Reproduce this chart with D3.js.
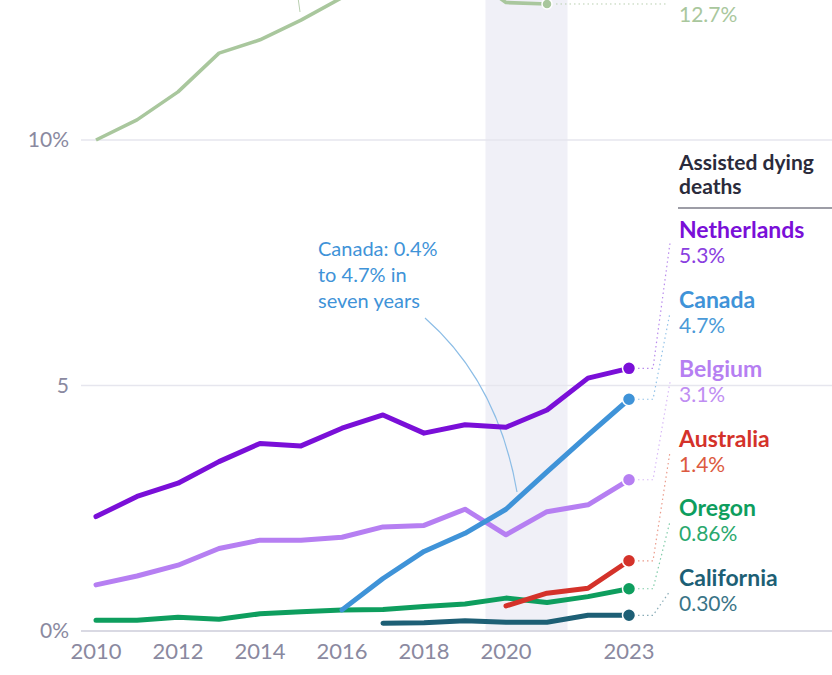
<!DOCTYPE html>
<html>
<head>
<meta charset="utf-8">
<script src="https://cdn.jsdelivr.net/npm/d3@7"></script>
<style>
  body { margin: 0; background: #fff; }
  svg { display: block; font-family: Lato, "Open Sans", sans-serif; }
</style>
</head>
<body>
<div id="chart"></div>
<script>
// years on the x axis
var years = d3.range(2010, 2024);
var xTicks = [2010, 2012, 2014, 2016, 2018, 2020, 2023];
var yTicks = [0, 5, 10];
var yTickLabels = ["0%", "5", "10%"];

// assisted dying deaths, share of all deaths (%)
var netherlands = [2.33, 2.74, 3.01, 3.45, 3.82, 3.77, 4.13, 4.40, 4.03, 4.20, 4.15, 4.50, 5.15, 5.35];
var belgium     = [0.94, 1.12, 1.34, 1.68, 1.85, 1.85, 1.91, 2.12, 2.15, 2.48, 1.96, 2.43, 2.57, 3.08];
var canada      = [null, null, null, null, null, null, 0.43, 1.07, 1.62, 1.99, 2.48, 3.24, 3.99, 4.72];
var australia   = [null, null, null, null, null, null, null, null, null, null, 0.51, 0.77, 0.87, 1.43];
var oregon      = [0.22, 0.22, 0.28, 0.24, 0.35, 0.39, 0.43, 0.44, 0.50, 0.55, 0.67, 0.58, 0.70, 0.86];
var california  = [null, null, null, null, null, null, null, 0.16, 0.17, 0.21, 0.18, 0.18, 0.32, 0.32];
// comparison series, top part cut off in the picture
var topSeries   = [10.0, 10.41, 10.98, 11.77, 12.04, 12.44, 12.9, 13.3, 13.6, 13.4, 12.8, 12.77, null, null];

var seriesNames  = ["Netherlands", "Canada", "Belgium", "Australia", "Oregon", "California"];
var seriesValues = [netherlands, canada, belgium, australia, oregon, california];
var seriesLabels = ["5.3%", "4.7%", "3.1%", "1.4%", "0.86%", "0.30%"];
var seriesColors = ["#7a0fd8", "#3f93d8", "#b67ff2", "#d4322a", "#0e9e5e", "#1d5f75"];
var labelColors  = ["#8a3ee0", "#4a9ad8", "#bf8ef2", "#dc5a40", "#2aa86e", "#3a7487"];
var shadedYears = [2019.5, 2021.5];

var W = 832, H = 675;
var svg = d3.select("#chart").append("svg")
    .attr("width", W)
    .attr("height", H);

var x = d3.scaleLinear().domain([2010, 2023]).range([96, 629]);
var y = d3.scaleLinear().domain([0, 10]).range([631, 140]);

// shaded period
svg.append("rect")
    .attr("x", x(shadedYears[0]))
    .attr("y", 0)
    .attr("width", x(shadedYears[1]) - x(shadedYears[0]))
    .attr("height", y(0))
    .attr("fill", "#f0f0f7");

// grid lines
svg.append("g").selectAll("line")
    .data(yTicks)
    .join("line")
    .attr("x1", 81).attr("x2", W)
    .attr("y1", d => y(d)).attr("y2", d => y(d))
    .attr("stroke", d => d === 0 ? "#d9d9e3" : "#e6e6ee")
    .attr("stroke-width", d => d === 0 ? 2 : 1.5);

svg.append("g").selectAll("text")
    .data(yTicks)
    .join("text")
    .attr("x", 69)
    .attr("y", d => y(d) + 7)
    .attr("text-anchor", "end")
    .attr("font-size", 21)
    .attr("fill", "#8a89a0")
    .text((d, i) => yTickLabels[i]);

// x axis labels
svg.append("g").selectAll("text")
    .data(xTicks)
    .join("text")
    .attr("x", d => x(d))
    .attr("y", 659)
    .attr("text-anchor", "middle")
    .attr("font-size", 22)
    .attr("fill", "#8a89a0")
    .text(d => d);

var line = d3.line()
    .defined(d => d.v != null)
    .x(d => x(d.year))
    .y(d => y(d.v));

function points(vals) {
    return years.map((yr, i) => ({year: yr, v: vals[i]}));
}
function lastPoint(vals) {
    var p = points(vals).filter(d => d.v != null);
    return p[p.length - 1];
}

// top comparison series
var topLast = lastPoint(topSeries);
svg.append("path")
    .attr("d", line(points(topSeries)))
    .attr("fill", "none")
    .attr("stroke", "#a9c79d")
    .attr("stroke-width", 3.6)
    .attr("stroke-linejoin", "round");
svg.append("circle")
    .attr("cx", x(topLast.year)).attr("cy", y(topLast.v))
    .attr("r", 5)
    .attr("fill", "#a9c79d")
    .attr("stroke", "#fff").attr("stroke-width", 1.5);
svg.append("line")
    .attr("x1", x(topLast.year) + 9).attr("x2", 668)
    .attr("y1", y(topLast.v)).attr("y2", y(topLast.v))
    .attr("stroke", "#b9cfb0")
    .attr("stroke-dasharray", "1.5,3");
svg.append("line")
    .attr("x1", 297).attr("y1", -10)
    .attr("x2", 300).attr("y2", 12)
    .attr("stroke", "#b9cfb0").attr("stroke-width", 1);
svg.append("text")
    .attr("x", 679).attr("y", 22)
    .attr("font-size", 21)
    .attr("fill", "#a9c79d")
    .text("12.7%");

// annotation for Canada
svg.append("path")
    .attr("d", "M425,318 Q498,382 517,492")
    .attr("fill", "none")
    .attr("stroke", "#8cbde6")
    .attr("stroke-width", 1.2);
svg.append("text")
    .attr("font-size", 20)
    .attr("fill", "#3f93d8")
    .selectAll("tspan")
    .data(["Canada: 0.4%", "to 4.7% in", "seven years"])
    .join("tspan")
    .attr("x", 318)
    .attr("y", (d, i) => 256 + i * 26)
    .text(d => d);

// series lines, drawn bottom-up so the front ones sit on top
var order = [5, 4, 3, 2, 1, 0];
order.forEach(function(i) {
    svg.append("path")
        .attr("d", line(points(seriesValues[i])))
        .attr("fill", "none")
        .attr("stroke", seriesColors[i])
        .attr("stroke-width", 5)
        .attr("stroke-linejoin", "round")
        .attr("stroke-linecap", "round");
});

// end dots, connectors and labels
seriesNames.forEach(function(name, i) {
    var p = lastPoint(seriesValues[i]);
    var ly = 231 + i * 69.6;
    svg.append("polyline")
        .attr("points", [[x(p.year) + 9, y(p.v)], [653, y(p.v)], [670, ly + 12]].join(" "))
        .attr("fill", "none")
        .attr("stroke", labelColors[i])
        .attr("stroke-opacity", 0.6)
        .attr("stroke-width", 1.2)
        .attr("stroke-dasharray", "1.5,3");
    svg.append("circle")
        .attr("cx", x(p.year)).attr("cy", y(p.v))
        .attr("r", 6.5)
        .attr("fill", seriesColors[i])
        .attr("stroke", "#fff").attr("stroke-width", 1.5);
    // name and value as one text block, two lines
    var t = svg.append("text")
        .attr("x", 679).attr("y", ly + 7);
    t.append("tspan")
        .attr("x", 679)
        .attr("font-size", 23)
        .attr("font-weight", 700)
        .attr("fill", seriesColors[i])
        .text(name);
    t.append("tspan")
        .attr("x", 679)
        .attr("dy", 25)
        .attr("font-size", 21)
        .attr("fill", labelColors[i])
        .text(seriesLabels[i]);
});

// legend header
svg.append("text")
    .attr("font-size", 21)
    .attr("font-weight", 700)
    .attr("fill", "#2b2b3b")
    .selectAll("tspan")
    .data(["Assisted dying", "deaths"])
    .join("tspan")
    .attr("x", 679)
    .attr("y", (d, i) => 170 + i * 24)
    .text(d => d);
svg.append("line")
    .attr("x1", 678).attr("x2", W)
    .attr("y1", 208).attr("y2", 208)
    .attr("stroke", "#7d7d88")
    .attr("stroke-width", 1.5);
</script>
</body>
</html>
